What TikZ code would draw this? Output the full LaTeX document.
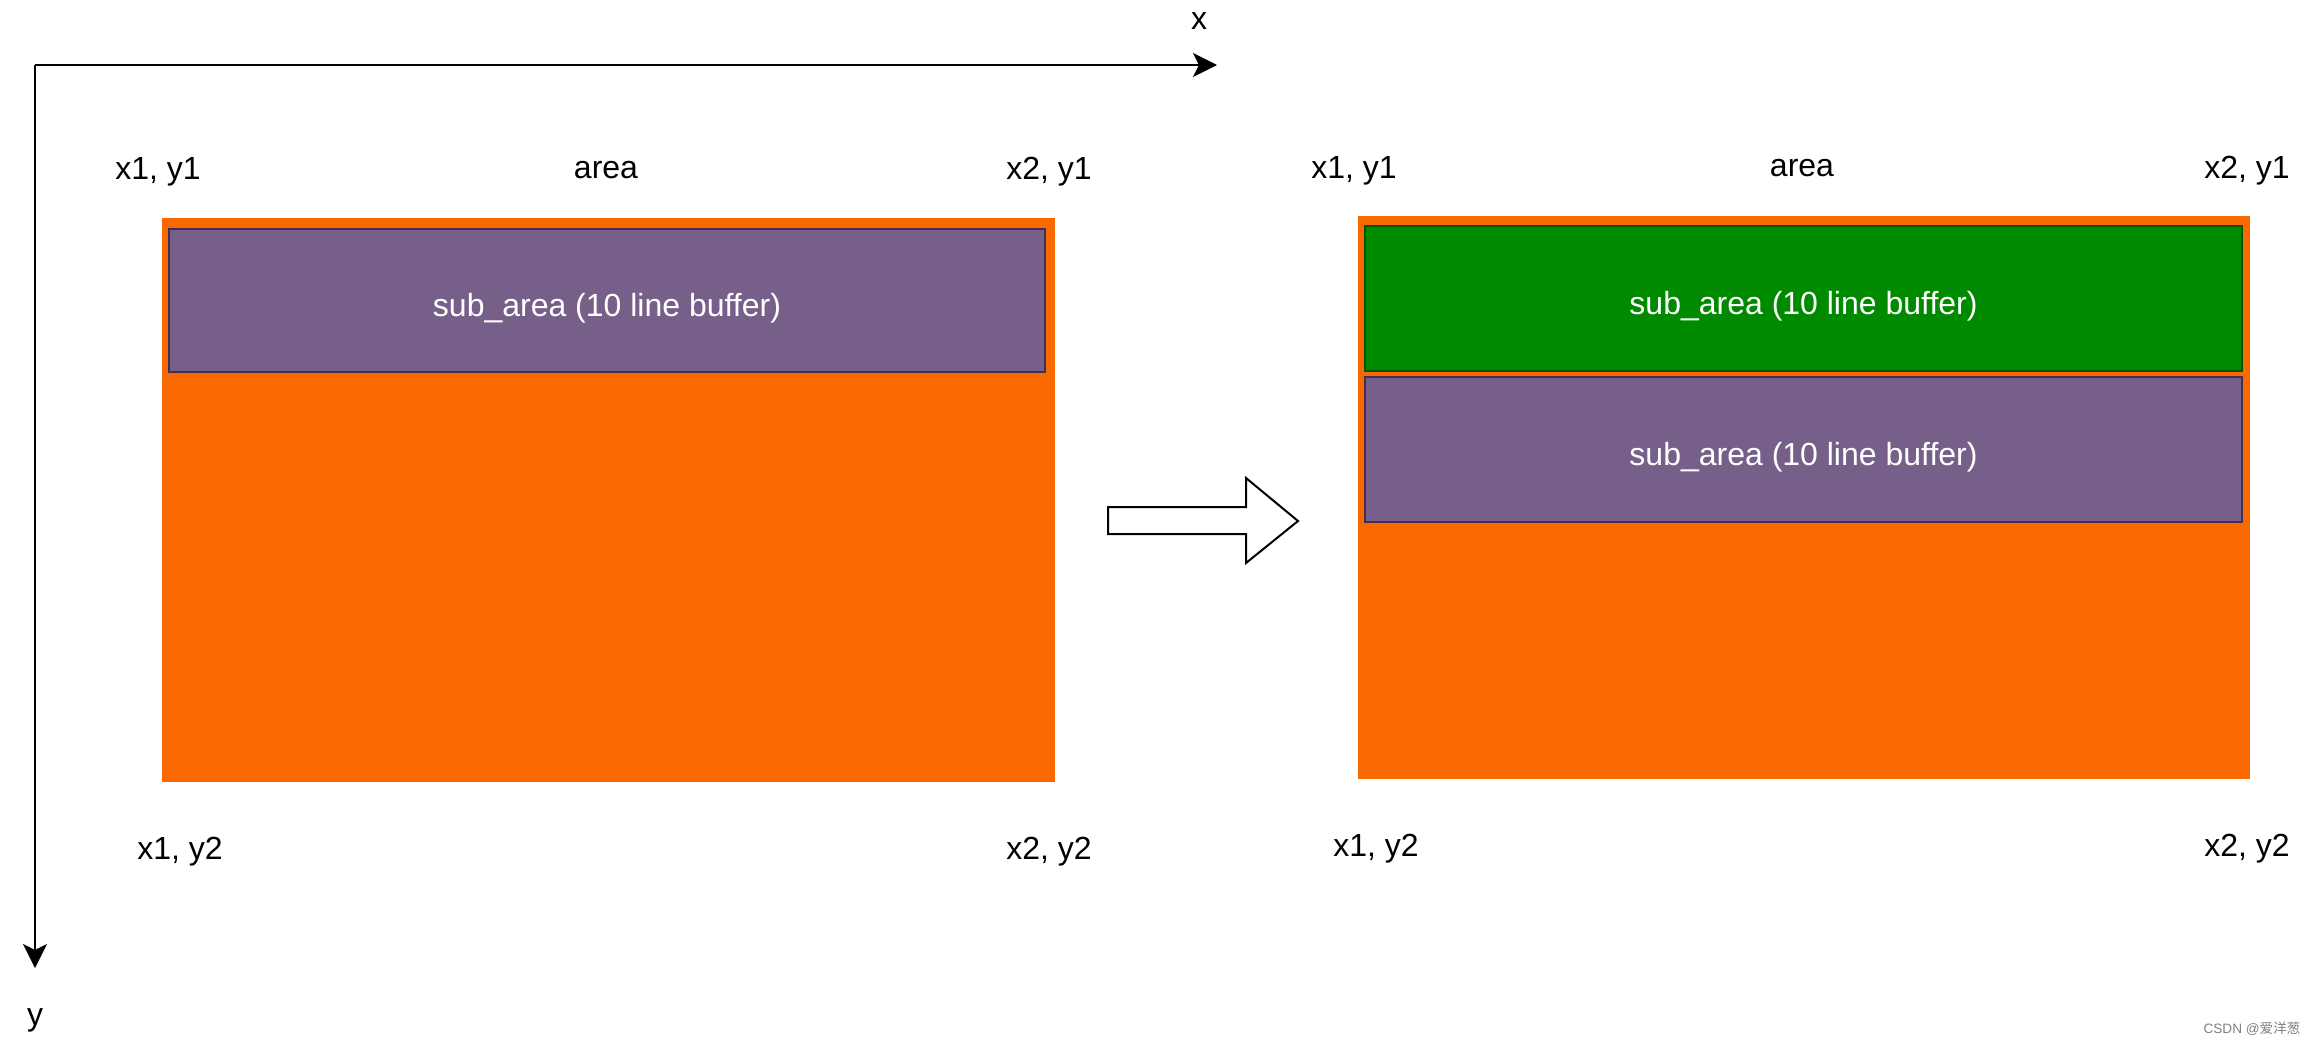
\documentclass[tikz,border=0pt]{standalone}
\usepackage{fontspec}
\setmainfont{Liberation Sans}
\newfontfamily\cjkfont{Noto Sans CJK SC}
\usetikzlibrary{arrows.meta}
\definecolor{areaorange}{HTML}{FA6800}
\definecolor{subpurple}{HTML}{76608A}
\definecolor{subpurpleline}{HTML}{432D57}
\definecolor{subgreen}{HTML}{008A00}
\definecolor{subgreenline}{HTML}{005700}
\tikzset{every picture/.style={line width=1pt}}
\tikzset{
  areabox/.style={fill=areaorange, draw=none},
  subbox/.style={fill=subpurple, draw=subpurpleline, text=white},
  subboxgreen/.style={fill=subgreen, draw=subgreenline, text=white},
  lbl/.style={yshift=-2.2pt},
  subtext/.style={yshift=-4pt},
}

\begin{document}
\begin{tikzpicture}[x=0.5pt, y=-0.5pt, >={Stealth[length=12pt,width=12pt,inset=3pt]}, every node/.style={font=\fontsize{16}{19}\selectfont}]
        \useasboundingbox (0,0) rectangle (2318,1045);
        % axes
        \coordinate (origin) at (35,65);
        \coordinate (xend)   at (1217,65);
        \coordinate (yend)   at (35,968);
        \draw[->, line width=1.2pt] (origin) -- (xend);
        \draw[->, line width=1.2pt] (origin) -- (yend);
        \node[lbl] (xlbl) at (1199,17)  {x};
        \node[lbl] (ylbl) at (35,1016)  {y};
        % left area
        \fill[areabox] (162,218) rectangle (1055,782);
        \draw[subbox] (169,229) rectangle node[subtext] (subA) {sub\_area (10 line buffer)} (1045,372);
        \node[lbl] (tlA)   at (158,167)  {x1, y1};
        \node[lbl] (areaA) at (606,166)  {area};
        \node[lbl] (trA)   at (1049,167) {x2, y1};
        \node[lbl] (blA)   at (180,847)  {x1, y2};
        \node[lbl] (brA)   at (1049,847) {x2, y2};
        % hollow arrow
        \draw[fill=white] (1108,507) -- (1246,507) -- (1246,478) -- (1298,521)
              -- (1246,563) -- (1246,534) -- (1108,534) -- cycle;
        % right area
        \fill[areabox] (1358,216) rectangle (2250,779);
        \draw[subboxgreen] (1365,226) rectangle node[subtext] (subB) {sub\_area (10 line buffer)} (2242,371);
        \draw[subbox] (1365,377) rectangle node[subtext] (subC) {sub\_area (10 line buffer)} (2242,522);
        \node[lbl] (tlB)   at (1354,166) {x1, y1};
        \node[lbl] (areaB) at (1802,164) {area};
        \node[lbl] (trB)   at (2247,166) {x2, y1};
        \node[lbl] (blB)   at (1376,844) {x1, y2};
        \node[lbl] (brB)   at (2247,844) {x2, y2};
        \node[text=gray, font=\fontsize{6.8}{8}\selectfont] (mark) at (2252,1029) {CSDN @\cjkfont 爱洋葱};
\end{tikzpicture}
\end{document}
